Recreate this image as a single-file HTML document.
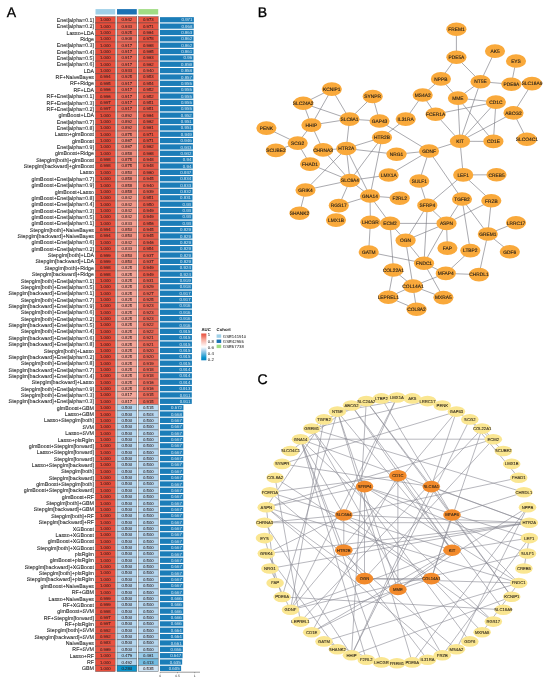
<!DOCTYPE html>
<html><head><meta charset="utf-8"><title>Figure</title>
<style>html,body{margin:0;padding:0;background:#fff}svg{display:block}</style></head>
<body>
<svg width="550" height="686" viewBox="0 0 550 686" font-family="'Liberation Sans', Arial, sans-serif" text-rendering="geometricPrecision">
<rect width="550" height="686" fill="#fff"/>
<g font-size="14" fill="#000" stroke="#000" stroke-width="0.3"><text x="6.8" y="17.1">A</text><text x="257.8" y="17.1">B</text><text x="257.6" y="383.7">C</text></g>
<rect x="95.5" y="9.1" width="19.7" height="5.4" fill="#9fd0e8"/>
<rect x="117.0" y="9.1" width="19.8" height="5.4" fill="#1a72b4"/>
<rect x="138.4" y="9.1" width="19.8" height="5.4" fill="#a0dc84"/>
<g font-size="5.3" fill="#222" stroke="#222" stroke-width="0.08" text-anchor="end">
<text x="94" y="21.83">Enet[alpha=0.1]</text>
<text x="94" y="28.19">Enet[alpha=0.2]</text>
<text x="94" y="34.55">Lasso+LDA</text>
<text x="94" y="40.91">Ridge</text>
<text x="94" y="47.27">Enet[alpha=0.3]</text>
<text x="94" y="53.63">Enet[alpha=0.4]</text>
<text x="94" y="59.98">Enet[alpha=0.5]</text>
<text x="94" y="66.34">Enet[alpha=0.6]</text>
<text x="94" y="72.70">LDA</text>
<text x="94" y="79.06">RF+NaiveBayes</text>
<text x="94" y="85.42">RF+Ridge</text>
<text x="94" y="91.78">RF+LDA</text>
<text x="94" y="98.14">RF+Enet[alpha=0.1]</text>
<text x="94" y="104.50">RF+Enet[alpha=0.3]</text>
<text x="94" y="110.86">RF+Enet[alpha=0.2]</text>
<text x="94" y="117.22">glmBoost+LDA</text>
<text x="94" y="123.58">Enet[alpha=0.7]</text>
<text x="94" y="129.94">Enet[alpha=0.8]</text>
<text x="94" y="136.30">Lasso+glmBoost</text>
<text x="94" y="142.65">glmBoost</text>
<text x="94" y="149.01">Enet[alpha=0.9]</text>
<text x="94" y="155.37">glmBoost+Ridge</text>
<text x="94" y="161.73">Stepglm[both]+glmBoost</text>
<text x="94" y="168.09">Stepglm[backward]+glmBoost</text>
<text x="94" y="174.45">Lasso</text>
<text x="94" y="180.81">glmBoost+Enet[alpha=0.7]</text>
<text x="94" y="187.17">glmBoost+Enet[alpha=0.9]</text>
<text x="94" y="193.53">glmBoost+Lasso</text>
<text x="94" y="199.89">glmBoost+Enet[alpha=0.8]</text>
<text x="94" y="206.25">glmBoost+Enet[alpha=0.4]</text>
<text x="94" y="212.61">glmBoost+Enet[alpha=0.3]</text>
<text x="94" y="218.97">glmBoost+Enet[alpha=0.5]</text>
<text x="94" y="225.32">glmBoost+Enet[alpha=0.1]</text>
<text x="94" y="231.68">Stepglm[both]+NaiveBayes</text>
<text x="94" y="238.04">Stepglm[backward]+NaiveBayes</text>
<text x="94" y="244.40">glmBoost+Enet[alpha=0.6]</text>
<text x="94" y="250.76">glmBoost+Enet[alpha=0.2]</text>
<text x="94" y="257.12">Stepglm[both]+LDA</text>
<text x="94" y="263.48">Stepglm[backward]+LDA</text>
<text x="94" y="269.84">Stepglm[both]+Ridge</text>
<text x="94" y="276.20">Stepglm[backward]+Ridge</text>
<text x="94" y="282.56">Stepglm[both]+Enet[alpha=0.1]</text>
<text x="94" y="288.92">Stepglm[both]+Enet[alpha=0.5]</text>
<text x="94" y="295.28">Stepglm[backward]+Enet[alpha=0.1]</text>
<text x="94" y="301.64">Stepglm[both]+Enet[alpha=0.7]</text>
<text x="94" y="307.99">Stepglm[backward]+Enet[alpha=0.9]</text>
<text x="94" y="314.35">Stepglm[both]+Enet[alpha=0.6]</text>
<text x="94" y="320.71">Stepglm[both]+Enet[alpha=0.2]</text>
<text x="94" y="327.07">Stepglm[backward]+Enet[alpha=0.5]</text>
<text x="94" y="333.43">Stepglm[both]+Enet[alpha=0.4]</text>
<text x="94" y="339.79">Stepglm[backward]+Enet[alpha=0.6]</text>
<text x="94" y="346.15">Stepglm[backward]+Enet[alpha=0.8]</text>
<text x="94" y="352.51">Stepglm[both]+Lasso</text>
<text x="94" y="358.87">Stepglm[backward]+Enet[alpha=0.2]</text>
<text x="94" y="365.23">Stepglm[both]+Enet[alpha=0.8]</text>
<text x="94" y="371.59">Stepglm[backward]+Enet[alpha=0.7]</text>
<text x="94" y="377.95">Stepglm[backward]+Enet[alpha=0.4]</text>
<text x="94" y="384.31">Stepglm[backward]+Lasso</text>
<text x="94" y="390.66">Stepglm[both]+Enet[alpha=0.9]</text>
<text x="94" y="397.02">Stepglm[both]+Enet[alpha=0.3]</text>
<text x="94" y="403.38">Stepglm[backward]+Enet[alpha=0.3]</text>
<text x="94" y="409.74">glmBoost+GBM</text>
<text x="94" y="416.10">Lasso+GBM</text>
<text x="94" y="422.46">Lasso+Stepglm[both]</text>
<text x="94" y="428.82">SVM</text>
<text x="94" y="435.18">Lasso+SVM</text>
<text x="94" y="441.54">Lasso+plsRglm</text>
<text x="94" y="447.90">glmBoost+Stepglm[forward]</text>
<text x="94" y="454.26">Lasso+Stepglm[forward]</text>
<text x="94" y="460.62">Stepglm[forward]</text>
<text x="94" y="466.98">Lasso+Stepglm[backward]</text>
<text x="94" y="473.33">Stepglm[both]</text>
<text x="94" y="479.69">Stepglm[backward]</text>
<text x="94" y="486.05">glmBoost+Stepglm[both]</text>
<text x="94" y="492.41">glmBoost+Stepglm[backward]</text>
<text x="94" y="498.77">glmBoost+RF</text>
<text x="94" y="505.13">Stepglm[both]+GBM</text>
<text x="94" y="511.49">Stepglm[backward]+GBM</text>
<text x="94" y="517.85">Stepglm[both]+RF</text>
<text x="94" y="524.21">Stepglm[backward]+RF</text>
<text x="94" y="530.57">XGBoost</text>
<text x="94" y="536.93">Lasso+XGBoost</text>
<text x="94" y="543.29">glmBoost+XGBoost</text>
<text x="94" y="549.65">Stepglm[both]+XGBoost</text>
<text x="94" y="556.00">plsRglm</text>
<text x="94" y="562.36">glmBoost+plsRglm</text>
<text x="94" y="568.72">Stepglm[backward]+XGBoost</text>
<text x="94" y="575.08">Stepglm[both]+plsRglm</text>
<text x="94" y="581.44">Stepglm[backward]+plsRglm</text>
<text x="94" y="587.80">glmBoost+NaiveBayes</text>
<text x="94" y="594.16">RF+GBM</text>
<text x="94" y="600.52">Lasso+NaiveBayes</text>
<text x="94" y="606.88">RF+XGBoost</text>
<text x="94" y="613.24">glmBoost+SVM</text>
<text x="94" y="619.60">RF+Stepglm[forward]</text>
<text x="94" y="625.96">RF+plsRglm</text>
<text x="94" y="632.32">Stepglm[both]+SVM</text>
<text x="94" y="638.67">Stepglm[backward]+SVM</text>
<text x="94" y="645.03">NaiveBayes</text>
<text x="94" y="651.39">RF+SVM</text>
<text x="94" y="657.75">Lasso+RF</text>
<text x="94" y="664.11">RF</text>
<text x="94" y="670.47">GBM</text>
</g>
<g stroke="#444" stroke-opacity="0.8" stroke-width="0.5">
<rect x="95.5" y="16.60" width="19.7" height="6.359" fill="#e84e3c"/>
<rect x="117.0" y="16.60" width="19.8" height="6.359" fill="#ea5e4c"/>
<rect x="138.4" y="16.60" width="19.8" height="6.359" fill="#e95442"/>
<rect x="95.5" y="22.96" width="19.7" height="6.359" fill="#e84e3c"/>
<rect x="117.0" y="22.96" width="19.8" height="6.359" fill="#eb6250"/>
<rect x="138.4" y="22.96" width="19.8" height="6.359" fill="#e95543"/>
<rect x="95.5" y="29.32" width="19.7" height="6.359" fill="#e84e3c"/>
<rect x="117.0" y="29.32" width="19.8" height="6.359" fill="#eb6554"/>
<rect x="138.4" y="29.32" width="19.8" height="6.359" fill="#e95745"/>
<rect x="95.5" y="35.68" width="19.7" height="6.359" fill="#e84e3c"/>
<rect x="117.0" y="35.68" width="19.8" height="6.359" fill="#ed6e5e"/>
<rect x="138.4" y="35.68" width="19.8" height="6.359" fill="#e95341"/>
<rect x="95.5" y="42.04" width="19.7" height="6.359" fill="#e84e3c"/>
<rect x="117.0" y="42.04" width="19.8" height="6.359" fill="#ec6958"/>
<rect x="138.4" y="42.04" width="19.8" height="6.359" fill="#e95644"/>
<rect x="95.5" y="48.40" width="19.7" height="6.359" fill="#e84e3c"/>
<rect x="117.0" y="48.40" width="19.8" height="6.359" fill="#ec6958"/>
<rect x="138.4" y="48.40" width="19.8" height="6.359" fill="#e95644"/>
<rect x="95.5" y="54.76" width="19.7" height="6.359" fill="#e84e3c"/>
<rect x="117.0" y="54.76" width="19.8" height="6.359" fill="#ec6958"/>
<rect x="138.4" y="54.76" width="19.8" height="6.359" fill="#e95745"/>
<rect x="95.5" y="61.11" width="19.7" height="6.359" fill="#e84e3c"/>
<rect x="117.0" y="61.11" width="19.8" height="6.359" fill="#ec6958"/>
<rect x="138.4" y="61.11" width="19.8" height="6.359" fill="#ea5745"/>
<rect x="95.5" y="67.47" width="19.7" height="6.359" fill="#e84e3c"/>
<rect x="117.0" y="67.47" width="19.8" height="6.359" fill="#eb6250"/>
<rect x="138.4" y="67.47" width="19.8" height="6.359" fill="#eb5f4d"/>
<rect x="95.5" y="73.83" width="19.7" height="6.359" fill="#e84f3d"/>
<rect x="117.0" y="73.83" width="19.8" height="6.359" fill="#eb6554"/>
<rect x="138.4" y="73.83" width="19.8" height="6.359" fill="#ea5947"/>
<rect x="95.5" y="80.19" width="19.7" height="6.359" fill="#e84f3d"/>
<rect x="117.0" y="80.19" width="19.8" height="6.359" fill="#ec6958"/>
<rect x="138.4" y="80.19" width="19.8" height="6.359" fill="#ea5947"/>
<rect x="95.5" y="86.55" width="19.7" height="6.359" fill="#e84f3d"/>
<rect x="117.0" y="86.55" width="19.8" height="6.359" fill="#ec6958"/>
<rect x="138.4" y="86.55" width="19.8" height="6.359" fill="#ea5a48"/>
<rect x="95.5" y="92.91" width="19.7" height="6.359" fill="#e84f3d"/>
<rect x="117.0" y="92.91" width="19.8" height="6.359" fill="#ec6958"/>
<rect x="138.4" y="92.91" width="19.8" height="6.359" fill="#ea5a48"/>
<rect x="95.5" y="99.27" width="19.7" height="6.359" fill="#e84f3d"/>
<rect x="117.0" y="99.27" width="19.8" height="6.359" fill="#ec6958"/>
<rect x="138.4" y="99.27" width="19.8" height="6.359" fill="#ea5a48"/>
<rect x="95.5" y="105.63" width="19.7" height="6.359" fill="#e84f3d"/>
<rect x="117.0" y="105.63" width="19.8" height="6.359" fill="#ec6958"/>
<rect x="138.4" y="105.63" width="19.8" height="6.359" fill="#ea5a48"/>
<rect x="95.5" y="111.99" width="19.7" height="6.359" fill="#e84e3c"/>
<rect x="117.0" y="111.99" width="19.8" height="6.359" fill="#ee7868"/>
<rect x="138.4" y="111.99" width="19.8" height="6.359" fill="#e95745"/>
<rect x="95.5" y="118.35" width="19.7" height="6.359" fill="#e84e3c"/>
<rect x="117.0" y="118.35" width="19.8" height="6.359" fill="#ee7868"/>
<rect x="138.4" y="118.35" width="19.8" height="6.359" fill="#ea5745"/>
<rect x="95.5" y="124.71" width="19.7" height="6.359" fill="#e84e3c"/>
<rect x="117.0" y="124.71" width="19.8" height="6.359" fill="#ee7868"/>
<rect x="138.4" y="124.71" width="19.8" height="6.359" fill="#ea5745"/>
<rect x="95.5" y="131.07" width="19.7" height="6.359" fill="#e84e3c"/>
<rect x="117.0" y="131.07" width="19.8" height="6.359" fill="#f08373"/>
<rect x="138.4" y="131.07" width="19.8" height="6.359" fill="#e95543"/>
<rect x="95.5" y="137.43" width="19.7" height="6.359" fill="#e84e3c"/>
<rect x="117.0" y="137.43" width="19.8" height="6.359" fill="#f08878"/>
<rect x="138.4" y="137.43" width="19.8" height="6.359" fill="#e95543"/>
<rect x="95.5" y="143.78" width="19.7" height="6.359" fill="#e84e3c"/>
<rect x="117.0" y="143.78" width="19.8" height="6.359" fill="#f08878"/>
<rect x="138.4" y="143.78" width="19.8" height="6.359" fill="#ea5745"/>
<rect x="95.5" y="150.14" width="19.7" height="6.359" fill="#e84e3c"/>
<rect x="117.0" y="150.14" width="19.8" height="6.359" fill="#f18d7e"/>
<rect x="138.4" y="150.14" width="19.8" height="6.359" fill="#e95644"/>
<rect x="95.5" y="156.50" width="19.7" height="6.359" fill="#e84e3c"/>
<rect x="117.0" y="156.50" width="19.8" height="6.359" fill="#f08373"/>
<rect x="138.4" y="156.50" width="19.8" height="6.359" fill="#ea5b49"/>
<rect x="95.5" y="162.86" width="19.7" height="6.359" fill="#e84e3c"/>
<rect x="117.0" y="162.86" width="19.8" height="6.359" fill="#f08373"/>
<rect x="138.4" y="162.86" width="19.8" height="6.359" fill="#ea5b49"/>
<rect x="95.5" y="169.22" width="19.7" height="6.359" fill="#e84e3c"/>
<rect x="117.0" y="169.22" width="19.8" height="6.359" fill="#f29384"/>
<rect x="138.4" y="169.22" width="19.8" height="6.359" fill="#ea5846"/>
<rect x="95.5" y="175.58" width="19.7" height="6.359" fill="#e84e3c"/>
<rect x="117.0" y="175.58" width="19.8" height="6.359" fill="#f18d7e"/>
<rect x="138.4" y="175.58" width="19.8" height="6.359" fill="#ea5c4a"/>
<rect x="95.5" y="181.94" width="19.7" height="6.359" fill="#e84e3c"/>
<rect x="117.0" y="181.94" width="19.8" height="6.359" fill="#f18d7e"/>
<rect x="138.4" y="181.94" width="19.8" height="6.359" fill="#eb5f4d"/>
<rect x="95.5" y="188.30" width="19.7" height="6.359" fill="#e84e3c"/>
<rect x="117.0" y="188.30" width="19.8" height="6.359" fill="#f18d7e"/>
<rect x="138.4" y="188.30" width="19.8" height="6.359" fill="#eb5f4d"/>
<rect x="95.5" y="194.66" width="19.7" height="6.359" fill="#e84e3c"/>
<rect x="117.0" y="194.66" width="19.8" height="6.359" fill="#f3998a"/>
<rect x="138.4" y="194.66" width="19.8" height="6.359" fill="#ea5a48"/>
<rect x="95.5" y="201.02" width="19.7" height="6.359" fill="#e84e3c"/>
<rect x="117.0" y="201.02" width="19.8" height="6.359" fill="#f3998a"/>
<rect x="138.4" y="201.02" width="19.8" height="6.359" fill="#ea5a48"/>
<rect x="95.5" y="207.38" width="19.7" height="6.359" fill="#e84e3c"/>
<rect x="117.0" y="207.38" width="19.8" height="6.359" fill="#f3998a"/>
<rect x="138.4" y="207.38" width="19.8" height="6.359" fill="#ea5a48"/>
<rect x="95.5" y="213.74" width="19.7" height="6.359" fill="#e84e3c"/>
<rect x="117.0" y="213.74" width="19.8" height="6.359" fill="#f3998a"/>
<rect x="138.4" y="213.74" width="19.8" height="6.359" fill="#ea5a48"/>
<rect x="95.5" y="220.10" width="19.7" height="6.359" fill="#e84e3c"/>
<rect x="117.0" y="220.10" width="19.8" height="6.359" fill="#f49f91"/>
<rect x="138.4" y="220.10" width="19.8" height="6.359" fill="#ea5947"/>
<rect x="95.5" y="226.45" width="19.7" height="6.359" fill="#e84f3d"/>
<rect x="117.0" y="226.45" width="19.8" height="6.359" fill="#f29384"/>
<rect x="138.4" y="226.45" width="19.8" height="6.359" fill="#ea5c4a"/>
<rect x="95.5" y="232.81" width="19.7" height="6.359" fill="#e84f3d"/>
<rect x="117.0" y="232.81" width="19.8" height="6.359" fill="#f29384"/>
<rect x="138.4" y="232.81" width="19.8" height="6.359" fill="#ea5c4a"/>
<rect x="95.5" y="239.17" width="19.7" height="6.359" fill="#e84e3c"/>
<rect x="117.0" y="239.17" width="19.8" height="6.359" fill="#f3998a"/>
<rect x="138.4" y="239.17" width="19.8" height="6.359" fill="#ea5c4a"/>
<rect x="95.5" y="245.53" width="19.7" height="6.359" fill="#e84e3c"/>
<rect x="117.0" y="245.53" width="19.8" height="6.359" fill="#f49f91"/>
<rect x="138.4" y="245.53" width="19.8" height="6.359" fill="#ea5947"/>
<rect x="95.5" y="251.89" width="19.7" height="6.359" fill="#e84e3c"/>
<rect x="117.0" y="251.89" width="19.8" height="6.359" fill="#f29384"/>
<rect x="138.4" y="251.89" width="19.8" height="6.359" fill="#eb604e"/>
<rect x="95.5" y="258.25" width="19.7" height="6.359" fill="#e84e3c"/>
<rect x="117.0" y="258.25" width="19.8" height="6.359" fill="#f29384"/>
<rect x="138.4" y="258.25" width="19.8" height="6.359" fill="#eb604e"/>
<rect x="95.5" y="264.61" width="19.7" height="6.359" fill="#e84e3c"/>
<rect x="117.0" y="264.61" width="19.8" height="6.359" fill="#f4a497"/>
<rect x="138.4" y="264.61" width="19.8" height="6.359" fill="#ea5a48"/>
<rect x="95.5" y="270.97" width="19.7" height="6.359" fill="#e84e3c"/>
<rect x="117.0" y="270.97" width="19.8" height="6.359" fill="#f4a497"/>
<rect x="138.4" y="270.97" width="19.8" height="6.359" fill="#ea5a48"/>
<rect x="95.5" y="277.33" width="19.7" height="6.359" fill="#e84e3c"/>
<rect x="117.0" y="277.33" width="19.8" height="6.359" fill="#f4a497"/>
<rect x="138.4" y="277.33" width="19.8" height="6.359" fill="#eb6351"/>
<rect x="95.5" y="283.69" width="19.7" height="6.359" fill="#e84e3c"/>
<rect x="117.0" y="283.69" width="19.8" height="6.359" fill="#f4a497"/>
<rect x="138.4" y="283.69" width="19.8" height="6.359" fill="#eb6452"/>
<rect x="95.5" y="290.05" width="19.7" height="6.359" fill="#e84e3c"/>
<rect x="117.0" y="290.05" width="19.8" height="6.359" fill="#f4a497"/>
<rect x="138.4" y="290.05" width="19.8" height="6.359" fill="#eb6553"/>
<rect x="95.5" y="296.41" width="19.7" height="6.359" fill="#e84e3c"/>
<rect x="117.0" y="296.41" width="19.8" height="6.359" fill="#f4a497"/>
<rect x="138.4" y="296.41" width="19.8" height="6.359" fill="#eb6554"/>
<rect x="95.5" y="302.77" width="19.7" height="6.359" fill="#e84e3c"/>
<rect x="117.0" y="302.77" width="19.8" height="6.359" fill="#f4a497"/>
<rect x="138.4" y="302.77" width="19.8" height="6.359" fill="#ec6655"/>
<rect x="95.5" y="309.12" width="19.7" height="6.359" fill="#e84e3c"/>
<rect x="117.0" y="309.12" width="19.8" height="6.359" fill="#f4a497"/>
<rect x="138.4" y="309.12" width="19.8" height="6.359" fill="#ec6655"/>
<rect x="95.5" y="315.48" width="19.7" height="6.359" fill="#e84e3c"/>
<rect x="117.0" y="315.48" width="19.8" height="6.359" fill="#f4a497"/>
<rect x="138.4" y="315.48" width="19.8" height="6.359" fill="#ec6655"/>
<rect x="95.5" y="321.84" width="19.7" height="6.359" fill="#e84e3c"/>
<rect x="117.0" y="321.84" width="19.8" height="6.359" fill="#f4a497"/>
<rect x="138.4" y="321.84" width="19.8" height="6.359" fill="#ec6756"/>
<rect x="95.5" y="328.20" width="19.7" height="6.359" fill="#e84e3c"/>
<rect x="117.0" y="328.20" width="19.8" height="6.359" fill="#f4a497"/>
<rect x="138.4" y="328.20" width="19.8" height="6.359" fill="#ec6756"/>
<rect x="95.5" y="334.56" width="19.7" height="6.359" fill="#e84e3c"/>
<rect x="117.0" y="334.56" width="19.8" height="6.359" fill="#f4a497"/>
<rect x="138.4" y="334.56" width="19.8" height="6.359" fill="#ec6756"/>
<rect x="95.5" y="340.92" width="19.7" height="6.359" fill="#e84e3c"/>
<rect x="117.0" y="340.92" width="19.8" height="6.359" fill="#f4a497"/>
<rect x="138.4" y="340.92" width="19.8" height="6.359" fill="#ec6756"/>
<rect x="95.5" y="347.28" width="19.7" height="6.359" fill="#e84e3c"/>
<rect x="117.0" y="347.28" width="19.8" height="6.359" fill="#f4a497"/>
<rect x="138.4" y="347.28" width="19.8" height="6.359" fill="#ec6857"/>
<rect x="95.5" y="353.64" width="19.7" height="6.359" fill="#e84e3c"/>
<rect x="117.0" y="353.64" width="19.8" height="6.359" fill="#f4a497"/>
<rect x="138.4" y="353.64" width="19.8" height="6.359" fill="#ec6857"/>
<rect x="95.5" y="360.00" width="19.7" height="6.359" fill="#e84e3c"/>
<rect x="117.0" y="360.00" width="19.8" height="6.359" fill="#f4a497"/>
<rect x="138.4" y="360.00" width="19.8" height="6.359" fill="#ec6857"/>
<rect x="95.5" y="366.36" width="19.7" height="6.359" fill="#e84e3c"/>
<rect x="117.0" y="366.36" width="19.8" height="6.359" fill="#f4a497"/>
<rect x="138.4" y="366.36" width="19.8" height="6.359" fill="#ec6958"/>
<rect x="95.5" y="372.72" width="19.7" height="6.359" fill="#e84e3c"/>
<rect x="117.0" y="372.72" width="19.8" height="6.359" fill="#f4a497"/>
<rect x="138.4" y="372.72" width="19.8" height="6.359" fill="#ec6958"/>
<rect x="95.5" y="379.08" width="19.7" height="6.359" fill="#e84e3c"/>
<rect x="117.0" y="379.08" width="19.8" height="6.359" fill="#f4a497"/>
<rect x="138.4" y="379.08" width="19.8" height="6.359" fill="#ec6a59"/>
<rect x="95.5" y="385.43" width="19.7" height="6.359" fill="#e84e3c"/>
<rect x="117.0" y="385.43" width="19.8" height="6.359" fill="#f4a497"/>
<rect x="138.4" y="385.43" width="19.8" height="6.359" fill="#ec6a59"/>
<rect x="95.5" y="391.79" width="19.7" height="6.359" fill="#e84e3c"/>
<rect x="117.0" y="391.79" width="19.8" height="6.359" fill="#f5a99c"/>
<rect x="138.4" y="391.79" width="19.8" height="6.359" fill="#ec6a59"/>
<rect x="95.5" y="398.15" width="19.7" height="6.359" fill="#e84e3c"/>
<rect x="117.0" y="398.15" width="19.8" height="6.359" fill="#f5a99c"/>
<rect x="138.4" y="398.15" width="19.8" height="6.359" fill="#ec6a59"/>
<rect x="95.5" y="404.51" width="19.7" height="6.359" fill="#e84e3c"/>
<rect x="117.0" y="404.51" width="19.8" height="6.359" fill="#b5d6ee"/>
<rect x="138.4" y="404.51" width="19.8" height="6.359" fill="#c0dcf1"/>
<rect x="95.5" y="410.87" width="19.7" height="6.359" fill="#e84e3c"/>
<rect x="117.0" y="410.87" width="19.8" height="6.359" fill="#b5d6ee"/>
<rect x="138.4" y="410.87" width="19.8" height="6.359" fill="#b7d7ef"/>
<rect x="95.5" y="417.23" width="19.7" height="6.359" fill="#e84e3c"/>
<rect x="117.0" y="417.23" width="19.8" height="6.359" fill="#b5d6ee"/>
<rect x="138.4" y="417.23" width="19.8" height="6.359" fill="#b5d6ee"/>
<rect x="95.5" y="423.59" width="19.7" height="6.359" fill="#e84e3c"/>
<rect x="117.0" y="423.59" width="19.8" height="6.359" fill="#b5d6ee"/>
<rect x="138.4" y="423.59" width="19.8" height="6.359" fill="#b5d6ee"/>
<rect x="95.5" y="429.95" width="19.7" height="6.359" fill="#e84e3c"/>
<rect x="117.0" y="429.95" width="19.8" height="6.359" fill="#b5d6ee"/>
<rect x="138.4" y="429.95" width="19.8" height="6.359" fill="#b5d6ee"/>
<rect x="95.5" y="436.31" width="19.7" height="6.359" fill="#e84e3c"/>
<rect x="117.0" y="436.31" width="19.8" height="6.359" fill="#b5d6ee"/>
<rect x="138.4" y="436.31" width="19.8" height="6.359" fill="#b5d6ee"/>
<rect x="95.5" y="442.67" width="19.7" height="6.359" fill="#e84e3c"/>
<rect x="117.0" y="442.67" width="19.8" height="6.359" fill="#b5d6ee"/>
<rect x="138.4" y="442.67" width="19.8" height="6.359" fill="#b5d6ee"/>
<rect x="95.5" y="449.03" width="19.7" height="6.359" fill="#e84e3c"/>
<rect x="117.0" y="449.03" width="19.8" height="6.359" fill="#b5d6ee"/>
<rect x="138.4" y="449.03" width="19.8" height="6.359" fill="#b5d6ee"/>
<rect x="95.5" y="455.39" width="19.7" height="6.359" fill="#e84e3c"/>
<rect x="117.0" y="455.39" width="19.8" height="6.359" fill="#b5d6ee"/>
<rect x="138.4" y="455.39" width="19.8" height="6.359" fill="#b5d6ee"/>
<rect x="95.5" y="461.75" width="19.7" height="6.359" fill="#e84e3c"/>
<rect x="117.0" y="461.75" width="19.8" height="6.359" fill="#b5d6ee"/>
<rect x="138.4" y="461.75" width="19.8" height="6.359" fill="#b5d6ee"/>
<rect x="95.5" y="468.10" width="19.7" height="6.359" fill="#e84e3c"/>
<rect x="117.0" y="468.10" width="19.8" height="6.359" fill="#b5d6ee"/>
<rect x="138.4" y="468.10" width="19.8" height="6.359" fill="#b5d6ee"/>
<rect x="95.5" y="474.46" width="19.7" height="6.359" fill="#e84e3c"/>
<rect x="117.0" y="474.46" width="19.8" height="6.359" fill="#b5d6ee"/>
<rect x="138.4" y="474.46" width="19.8" height="6.359" fill="#b5d6ee"/>
<rect x="95.5" y="480.82" width="19.7" height="6.359" fill="#e84e3c"/>
<rect x="117.0" y="480.82" width="19.8" height="6.359" fill="#b5d6ee"/>
<rect x="138.4" y="480.82" width="19.8" height="6.359" fill="#b5d6ee"/>
<rect x="95.5" y="487.18" width="19.7" height="6.359" fill="#e84e3c"/>
<rect x="117.0" y="487.18" width="19.8" height="6.359" fill="#b5d6ee"/>
<rect x="138.4" y="487.18" width="19.8" height="6.359" fill="#b5d6ee"/>
<rect x="95.5" y="493.54" width="19.7" height="6.359" fill="#e84e3c"/>
<rect x="117.0" y="493.54" width="19.8" height="6.359" fill="#b5d6ee"/>
<rect x="138.4" y="493.54" width="19.8" height="6.359" fill="#b5d6ee"/>
<rect x="95.5" y="499.90" width="19.7" height="6.359" fill="#e84e3c"/>
<rect x="117.0" y="499.90" width="19.8" height="6.359" fill="#b5d6ee"/>
<rect x="138.4" y="499.90" width="19.8" height="6.359" fill="#b5d6ee"/>
<rect x="95.5" y="506.26" width="19.7" height="6.359" fill="#e84e3c"/>
<rect x="117.0" y="506.26" width="19.8" height="6.359" fill="#b5d6ee"/>
<rect x="138.4" y="506.26" width="19.8" height="6.359" fill="#b5d6ee"/>
<rect x="95.5" y="512.62" width="19.7" height="6.359" fill="#e84e3c"/>
<rect x="117.0" y="512.62" width="19.8" height="6.359" fill="#b5d6ee"/>
<rect x="138.4" y="512.62" width="19.8" height="6.359" fill="#b5d6ee"/>
<rect x="95.5" y="518.98" width="19.7" height="6.359" fill="#e84e3c"/>
<rect x="117.0" y="518.98" width="19.8" height="6.359" fill="#b5d6ee"/>
<rect x="138.4" y="518.98" width="19.8" height="6.359" fill="#b5d6ee"/>
<rect x="95.5" y="525.34" width="19.7" height="6.359" fill="#e84e3c"/>
<rect x="117.0" y="525.34" width="19.8" height="6.359" fill="#b5d6ee"/>
<rect x="138.4" y="525.34" width="19.8" height="6.359" fill="#b5d6ee"/>
<rect x="95.5" y="531.70" width="19.7" height="6.359" fill="#e84e3c"/>
<rect x="117.0" y="531.70" width="19.8" height="6.359" fill="#b5d6ee"/>
<rect x="138.4" y="531.70" width="19.8" height="6.359" fill="#b5d6ee"/>
<rect x="95.5" y="538.06" width="19.7" height="6.359" fill="#e84e3c"/>
<rect x="117.0" y="538.06" width="19.8" height="6.359" fill="#b5d6ee"/>
<rect x="138.4" y="538.06" width="19.8" height="6.359" fill="#b5d6ee"/>
<rect x="95.5" y="544.42" width="19.7" height="6.359" fill="#e84e3c"/>
<rect x="117.0" y="544.42" width="19.8" height="6.359" fill="#b5d6ee"/>
<rect x="138.4" y="544.42" width="19.8" height="6.359" fill="#b5d6ee"/>
<rect x="95.5" y="550.77" width="19.7" height="6.359" fill="#e84e3c"/>
<rect x="117.0" y="550.77" width="19.8" height="6.359" fill="#b5d6ee"/>
<rect x="138.4" y="550.77" width="19.8" height="6.359" fill="#b5d6ee"/>
<rect x="95.5" y="557.13" width="19.7" height="6.359" fill="#e84e3c"/>
<rect x="117.0" y="557.13" width="19.8" height="6.359" fill="#b5d6ee"/>
<rect x="138.4" y="557.13" width="19.8" height="6.359" fill="#b5d6ee"/>
<rect x="95.5" y="563.49" width="19.7" height="6.359" fill="#e84e3c"/>
<rect x="117.0" y="563.49" width="19.8" height="6.359" fill="#b5d6ee"/>
<rect x="138.4" y="563.49" width="19.8" height="6.359" fill="#b5d6ee"/>
<rect x="95.5" y="569.85" width="19.7" height="6.359" fill="#e84e3c"/>
<rect x="117.0" y="569.85" width="19.8" height="6.359" fill="#b5d6ee"/>
<rect x="138.4" y="569.85" width="19.8" height="6.359" fill="#b5d6ee"/>
<rect x="95.5" y="576.21" width="19.7" height="6.359" fill="#e84e3c"/>
<rect x="117.0" y="576.21" width="19.8" height="6.359" fill="#b5d6ee"/>
<rect x="138.4" y="576.21" width="19.8" height="6.359" fill="#b5d6ee"/>
<rect x="95.5" y="582.57" width="19.7" height="6.359" fill="#e84e3c"/>
<rect x="117.0" y="582.57" width="19.8" height="6.359" fill="#b5d6ee"/>
<rect x="138.4" y="582.57" width="19.8" height="6.359" fill="#b5d6ee"/>
<rect x="95.5" y="588.93" width="19.7" height="6.359" fill="#e84e3c"/>
<rect x="117.0" y="588.93" width="19.8" height="6.359" fill="#b5d6ee"/>
<rect x="138.4" y="588.93" width="19.8" height="6.359" fill="#b5d6ee"/>
<rect x="95.5" y="595.29" width="19.7" height="6.359" fill="#e84e3c"/>
<rect x="117.0" y="595.29" width="19.8" height="6.359" fill="#b5d6ee"/>
<rect x="138.4" y="595.29" width="19.8" height="6.359" fill="#b5d6ee"/>
<rect x="95.5" y="601.65" width="19.7" height="6.359" fill="#e84e3c"/>
<rect x="117.0" y="601.65" width="19.8" height="6.359" fill="#b5d6ee"/>
<rect x="138.4" y="601.65" width="19.8" height="6.359" fill="#b5d6ee"/>
<rect x="95.5" y="608.01" width="19.7" height="6.359" fill="#e84e3c"/>
<rect x="117.0" y="608.01" width="19.8" height="6.359" fill="#b5d6ee"/>
<rect x="138.4" y="608.01" width="19.8" height="6.359" fill="#b5d6ee"/>
<rect x="95.5" y="614.37" width="19.7" height="6.359" fill="#e84f3d"/>
<rect x="117.0" y="614.37" width="19.8" height="6.359" fill="#b5d6ee"/>
<rect x="138.4" y="614.37" width="19.8" height="6.359" fill="#b5d6ee"/>
<rect x="95.5" y="620.73" width="19.7" height="6.359" fill="#e84f3d"/>
<rect x="117.0" y="620.73" width="19.8" height="6.359" fill="#b5d6ee"/>
<rect x="138.4" y="620.73" width="19.8" height="6.359" fill="#b5d6ee"/>
<rect x="95.5" y="627.09" width="19.7" height="6.359" fill="#e8503e"/>
<rect x="117.0" y="627.09" width="19.8" height="6.359" fill="#b5d6ee"/>
<rect x="138.4" y="627.09" width="19.8" height="6.359" fill="#b5d6ee"/>
<rect x="95.5" y="633.44" width="19.7" height="6.359" fill="#e8503e"/>
<rect x="117.0" y="633.44" width="19.8" height="6.359" fill="#b5d6ee"/>
<rect x="138.4" y="633.44" width="19.8" height="6.359" fill="#b5d6ee"/>
<rect x="95.5" y="639.80" width="19.7" height="6.359" fill="#e95240"/>
<rect x="117.0" y="639.80" width="19.8" height="6.359" fill="#b5d6ee"/>
<rect x="138.4" y="639.80" width="19.8" height="6.359" fill="#b5d6ee"/>
<rect x="95.5" y="646.16" width="19.7" height="6.359" fill="#e95543"/>
<rect x="117.0" y="646.16" width="19.8" height="6.359" fill="#b5d6ee"/>
<rect x="138.4" y="646.16" width="19.8" height="6.359" fill="#b5d6ee"/>
<rect x="95.5" y="652.52" width="19.7" height="6.359" fill="#e84e3c"/>
<rect x="117.0" y="652.52" width="19.8" height="6.359" fill="#a5d0eb"/>
<rect x="138.4" y="652.52" width="19.8" height="6.359" fill="#97cae8"/>
<rect x="95.5" y="658.88" width="19.7" height="6.359" fill="#e84e3c"/>
<rect x="117.0" y="658.88" width="19.8" height="6.359" fill="#afd4ed"/>
<rect x="138.4" y="658.88" width="19.8" height="6.359" fill="#72bce1"/>
<rect x="95.5" y="665.24" width="19.7" height="6.359" fill="#e84e3c"/>
<rect x="117.0" y="665.24" width="19.8" height="6.359" fill="#0c94cc"/>
<rect x="138.4" y="665.24" width="19.8" height="6.359" fill="#cfe4f4"/>
</g>
<g font-size="4.25" fill="#2a1a1a" stroke="#2a1a1a" stroke-width="0.04" text-anchor="middle">
<text x="105.3" y="21.23">1.000</text>
<text x="126.9" y="21.23">0.942</text>
<text x="148.3" y="21.23">0.973</text>
<text x="105.3" y="27.59">1.000</text>
<text x="126.9" y="27.59">0.933</text>
<text x="148.3" y="27.59">0.971</text>
<text x="105.3" y="33.95">1.000</text>
<text x="126.9" y="33.95">0.925</text>
<text x="148.3" y="33.95">0.964</text>
<text x="105.3" y="40.31">1.000</text>
<text x="126.9" y="40.31">0.908</text>
<text x="148.3" y="40.31">0.978</text>
<text x="105.3" y="46.67">1.000</text>
<text x="126.9" y="46.67">0.917</text>
<text x="148.3" y="46.67">0.968</text>
<text x="105.3" y="53.03">1.000</text>
<text x="126.9" y="53.03">0.917</text>
<text x="148.3" y="53.03">0.965</text>
<text x="105.3" y="59.38">1.000</text>
<text x="126.9" y="59.38">0.917</text>
<text x="148.3" y="59.38">0.963</text>
<text x="105.3" y="65.74">1.000</text>
<text x="126.9" y="65.74">0.917</text>
<text x="148.3" y="65.74">0.962</text>
<text x="105.3" y="72.10">1.000</text>
<text x="126.9" y="72.10">0.933</text>
<text x="148.3" y="72.10">0.940</text>
<text x="105.3" y="78.46">0.994</text>
<text x="126.9" y="78.46">0.925</text>
<text x="148.3" y="78.46">0.953</text>
<text x="105.3" y="84.82">0.995</text>
<text x="126.9" y="84.82">0.917</text>
<text x="148.3" y="84.82">0.954</text>
<text x="105.3" y="91.18">0.996</text>
<text x="126.9" y="91.18">0.917</text>
<text x="148.3" y="91.18">0.952</text>
<text x="105.3" y="97.54">0.996</text>
<text x="126.9" y="97.54">0.917</text>
<text x="148.3" y="97.54">0.952</text>
<text x="105.3" y="103.90">0.997</text>
<text x="126.9" y="103.90">0.917</text>
<text x="148.3" y="103.90">0.951</text>
<text x="105.3" y="110.26">0.997</text>
<text x="126.9" y="110.26">0.917</text>
<text x="148.3" y="110.26">0.951</text>
<text x="105.3" y="116.62">1.000</text>
<text x="126.9" y="116.62">0.892</text>
<text x="148.3" y="116.62">0.964</text>
<text x="105.3" y="122.98">1.000</text>
<text x="126.9" y="122.98">0.892</text>
<text x="148.3" y="122.98">0.962</text>
<text x="105.3" y="129.34">1.000</text>
<text x="126.9" y="129.34">0.892</text>
<text x="148.3" y="129.34">0.961</text>
<text x="105.3" y="135.70">1.000</text>
<text x="126.9" y="135.70">0.875</text>
<text x="148.3" y="135.70">0.971</text>
<text x="105.3" y="142.05">1.000</text>
<text x="126.9" y="142.05">0.867</text>
<text x="148.3" y="142.05">0.971</text>
<text x="105.3" y="148.41">1.000</text>
<text x="126.9" y="148.41">0.867</text>
<text x="148.3" y="148.41">0.962</text>
<text x="105.3" y="154.77">1.000</text>
<text x="126.9" y="154.77">0.858</text>
<text x="148.3" y="154.77">0.968</text>
<text x="105.3" y="161.13">0.998</text>
<text x="126.9" y="161.13">0.875</text>
<text x="148.3" y="161.13">0.948</text>
<text x="105.3" y="167.49">0.998</text>
<text x="126.9" y="167.49">0.875</text>
<text x="148.3" y="167.49">0.948</text>
<text x="105.3" y="173.85">1.000</text>
<text x="126.9" y="173.85">0.850</text>
<text x="148.3" y="173.85">0.960</text>
<text x="105.3" y="180.21">1.000</text>
<text x="126.9" y="180.21">0.858</text>
<text x="148.3" y="180.21">0.945</text>
<text x="105.3" y="186.57">1.000</text>
<text x="126.9" y="186.57">0.858</text>
<text x="148.3" y="186.57">0.940</text>
<text x="105.3" y="192.93">1.000</text>
<text x="126.9" y="192.93">0.858</text>
<text x="148.3" y="192.93">0.939</text>
<text x="105.3" y="199.29">1.000</text>
<text x="126.9" y="199.29">0.842</text>
<text x="148.3" y="199.29">0.951</text>
<text x="105.3" y="205.65">1.000</text>
<text x="126.9" y="205.65">0.842</text>
<text x="148.3" y="205.65">0.950</text>
<text x="105.3" y="212.01">1.000</text>
<text x="126.9" y="212.01">0.842</text>
<text x="148.3" y="212.01">0.949</text>
<text x="105.3" y="218.37">1.000</text>
<text x="126.9" y="218.37">0.842</text>
<text x="148.3" y="218.37">0.949</text>
<text x="105.3" y="224.72">1.000</text>
<text x="126.9" y="224.72">0.833</text>
<text x="148.3" y="224.72">0.956</text>
<text x="105.3" y="231.08">0.994</text>
<text x="126.9" y="231.08">0.850</text>
<text x="148.3" y="231.08">0.945</text>
<text x="105.3" y="237.44">0.994</text>
<text x="126.9" y="237.44">0.850</text>
<text x="148.3" y="237.44">0.945</text>
<text x="105.3" y="243.80">1.000</text>
<text x="126.9" y="243.80">0.842</text>
<text x="148.3" y="243.80">0.946</text>
<text x="105.3" y="250.16">1.000</text>
<text x="126.9" y="250.16">0.833</text>
<text x="148.3" y="250.16">0.954</text>
<text x="105.3" y="256.52">0.999</text>
<text x="126.9" y="256.52">0.850</text>
<text x="148.3" y="256.52">0.937</text>
<text x="105.3" y="262.88">0.999</text>
<text x="126.9" y="262.88">0.850</text>
<text x="148.3" y="262.88">0.937</text>
<text x="105.3" y="269.24">0.998</text>
<text x="126.9" y="269.24">0.825</text>
<text x="148.3" y="269.24">0.949</text>
<text x="105.3" y="275.60">0.998</text>
<text x="126.9" y="275.60">0.825</text>
<text x="148.3" y="275.60">0.949</text>
<text x="105.3" y="281.96">1.000</text>
<text x="126.9" y="281.96">0.825</text>
<text x="148.3" y="281.96">0.931</text>
<text x="105.3" y="288.32">1.000</text>
<text x="126.9" y="288.32">0.825</text>
<text x="148.3" y="288.32">0.929</text>
<text x="105.3" y="294.68">1.000</text>
<text x="126.9" y="294.68">0.825</text>
<text x="148.3" y="294.68">0.927</text>
<text x="105.3" y="301.04">1.000</text>
<text x="126.9" y="301.04">0.825</text>
<text x="148.3" y="301.04">0.925</text>
<text x="105.3" y="307.39">1.000</text>
<text x="126.9" y="307.39">0.825</text>
<text x="148.3" y="307.39">0.923</text>
<text x="105.3" y="313.75">1.000</text>
<text x="126.9" y="313.75">0.825</text>
<text x="148.3" y="313.75">0.923</text>
<text x="105.3" y="320.11">1.000</text>
<text x="126.9" y="320.11">0.825</text>
<text x="148.3" y="320.11">0.923</text>
<text x="105.3" y="326.47">1.000</text>
<text x="126.9" y="326.47">0.825</text>
<text x="148.3" y="326.47">0.922</text>
<text x="105.3" y="332.83">1.000</text>
<text x="126.9" y="332.83">0.825</text>
<text x="148.3" y="332.83">0.922</text>
<text x="105.3" y="339.19">1.000</text>
<text x="126.9" y="339.19">0.825</text>
<text x="148.3" y="339.19">0.921</text>
<text x="105.3" y="345.55">1.000</text>
<text x="126.9" y="345.55">0.825</text>
<text x="148.3" y="345.55">0.921</text>
<text x="105.3" y="351.91">1.000</text>
<text x="126.9" y="351.91">0.825</text>
<text x="148.3" y="351.91">0.920</text>
<text x="105.3" y="358.27">1.000</text>
<text x="126.9" y="358.27">0.825</text>
<text x="148.3" y="358.27">0.920</text>
<text x="105.3" y="364.63">1.000</text>
<text x="126.9" y="364.63">0.825</text>
<text x="148.3" y="364.63">0.919</text>
<text x="105.3" y="370.99">1.000</text>
<text x="126.9" y="370.99">0.825</text>
<text x="148.3" y="370.99">0.918</text>
<text x="105.3" y="377.35">1.000</text>
<text x="126.9" y="377.35">0.825</text>
<text x="148.3" y="377.35">0.918</text>
<text x="105.3" y="383.71">1.000</text>
<text x="126.9" y="383.71">0.825</text>
<text x="148.3" y="383.71">0.916</text>
<text x="105.3" y="390.06">1.000</text>
<text x="126.9" y="390.06">0.825</text>
<text x="148.3" y="390.06">0.916</text>
<text x="105.3" y="396.42">1.000</text>
<text x="126.9" y="396.42">0.817</text>
<text x="148.3" y="396.42">0.915</text>
<text x="105.3" y="402.78">1.000</text>
<text x="126.9" y="402.78">0.817</text>
<text x="148.3" y="402.78">0.915</text>
<text x="105.3" y="409.14">1.000</text>
<text x="126.9" y="409.14">0.500</text>
<text x="148.3" y="409.14">0.515</text>
<text x="105.3" y="415.50">1.000</text>
<text x="126.9" y="415.50">0.500</text>
<text x="148.3" y="415.50">0.503</text>
<text x="105.3" y="421.86">1.000</text>
<text x="126.9" y="421.86">0.500</text>
<text x="148.3" y="421.86">0.500</text>
<text x="105.3" y="428.22">1.000</text>
<text x="126.9" y="428.22">0.500</text>
<text x="148.3" y="428.22">0.500</text>
<text x="105.3" y="434.58">1.000</text>
<text x="126.9" y="434.58">0.500</text>
<text x="148.3" y="434.58">0.500</text>
<text x="105.3" y="440.94">1.000</text>
<text x="126.9" y="440.94">0.500</text>
<text x="148.3" y="440.94">0.500</text>
<text x="105.3" y="447.30">1.000</text>
<text x="126.9" y="447.30">0.500</text>
<text x="148.3" y="447.30">0.500</text>
<text x="105.3" y="453.66">1.000</text>
<text x="126.9" y="453.66">0.500</text>
<text x="148.3" y="453.66">0.500</text>
<text x="105.3" y="460.02">1.000</text>
<text x="126.9" y="460.02">0.500</text>
<text x="148.3" y="460.02">0.500</text>
<text x="105.3" y="466.38">1.000</text>
<text x="126.9" y="466.38">0.500</text>
<text x="148.3" y="466.38">0.500</text>
<text x="105.3" y="472.73">1.000</text>
<text x="126.9" y="472.73">0.500</text>
<text x="148.3" y="472.73">0.500</text>
<text x="105.3" y="479.09">1.000</text>
<text x="126.9" y="479.09">0.500</text>
<text x="148.3" y="479.09">0.500</text>
<text x="105.3" y="485.45">1.000</text>
<text x="126.9" y="485.45">0.500</text>
<text x="148.3" y="485.45">0.500</text>
<text x="105.3" y="491.81">1.000</text>
<text x="126.9" y="491.81">0.500</text>
<text x="148.3" y="491.81">0.500</text>
<text x="105.3" y="498.17">1.000</text>
<text x="126.9" y="498.17">0.500</text>
<text x="148.3" y="498.17">0.500</text>
<text x="105.3" y="504.53">1.000</text>
<text x="126.9" y="504.53">0.500</text>
<text x="148.3" y="504.53">0.500</text>
<text x="105.3" y="510.89">1.000</text>
<text x="126.9" y="510.89">0.500</text>
<text x="148.3" y="510.89">0.500</text>
<text x="105.3" y="517.25">1.000</text>
<text x="126.9" y="517.25">0.500</text>
<text x="148.3" y="517.25">0.500</text>
<text x="105.3" y="523.61">1.000</text>
<text x="126.9" y="523.61">0.500</text>
<text x="148.3" y="523.61">0.500</text>
<text x="105.3" y="529.97">1.000</text>
<text x="126.9" y="529.97">0.500</text>
<text x="148.3" y="529.97">0.500</text>
<text x="105.3" y="536.33">1.000</text>
<text x="126.9" y="536.33">0.500</text>
<text x="148.3" y="536.33">0.500</text>
<text x="105.3" y="542.69">1.000</text>
<text x="126.9" y="542.69">0.500</text>
<text x="148.3" y="542.69">0.500</text>
<text x="105.3" y="549.05">1.000</text>
<text x="126.9" y="549.05">0.500</text>
<text x="148.3" y="549.05">0.500</text>
<text x="105.3" y="555.40">1.000</text>
<text x="126.9" y="555.40">0.500</text>
<text x="148.3" y="555.40">0.500</text>
<text x="105.3" y="561.76">1.000</text>
<text x="126.9" y="561.76">0.500</text>
<text x="148.3" y="561.76">0.500</text>
<text x="105.3" y="568.12">1.000</text>
<text x="126.9" y="568.12">0.500</text>
<text x="148.3" y="568.12">0.500</text>
<text x="105.3" y="574.48">1.000</text>
<text x="126.9" y="574.48">0.500</text>
<text x="148.3" y="574.48">0.500</text>
<text x="105.3" y="580.84">1.000</text>
<text x="126.9" y="580.84">0.500</text>
<text x="148.3" y="580.84">0.500</text>
<text x="105.3" y="587.20">1.000</text>
<text x="126.9" y="587.20">0.500</text>
<text x="148.3" y="587.20">0.500</text>
<text x="105.3" y="593.56">1.000</text>
<text x="126.9" y="593.56">0.500</text>
<text x="148.3" y="593.56">0.500</text>
<text x="105.3" y="599.92">0.999</text>
<text x="126.9" y="599.92">0.500</text>
<text x="148.3" y="599.92">0.500</text>
<text x="105.3" y="606.28">0.999</text>
<text x="126.9" y="606.28">0.500</text>
<text x="148.3" y="606.28">0.500</text>
<text x="105.3" y="612.64">0.998</text>
<text x="126.9" y="612.64">0.500</text>
<text x="148.3" y="612.64">0.500</text>
<text x="105.3" y="619.00">0.997</text>
<text x="126.9" y="619.00">0.500</text>
<text x="148.3" y="619.00">0.500</text>
<text x="105.3" y="625.36">0.997</text>
<text x="126.9" y="625.36">0.500</text>
<text x="148.3" y="625.36">0.500</text>
<text x="105.3" y="631.72">0.992</text>
<text x="126.9" y="631.72">0.500</text>
<text x="148.3" y="631.72">0.500</text>
<text x="105.3" y="638.07">0.992</text>
<text x="126.9" y="638.07">0.500</text>
<text x="148.3" y="638.07">0.500</text>
<text x="105.3" y="644.43">0.983</text>
<text x="126.9" y="644.43">0.500</text>
<text x="148.3" y="644.43">0.500</text>
<text x="105.3" y="650.79">0.969</text>
<text x="126.9" y="650.79">0.500</text>
<text x="148.3" y="650.79">0.500</text>
<text x="105.3" y="657.15">1.000</text>
<text x="126.9" y="657.15">0.479</text>
<text x="148.3" y="657.15">0.461</text>
<text x="105.3" y="663.51">1.000</text>
<text x="126.9" y="663.51">0.492</text>
<text x="148.3" y="663.51">0.413</text>
<text x="105.3" y="669.87">1.000</text>
<text x="126.9" y="669.87">0.280</text>
<text x="148.3" y="669.87">0.535</text>
</g>
<g fill="#1b7db8">
<rect x="160.0" y="17.15" width="33.89" height="5.21"/>
<rect x="160.0" y="23.51" width="33.78" height="5.21"/>
<rect x="160.0" y="29.87" width="33.61" height="5.21"/>
<rect x="160.0" y="36.23" width="33.57" height="5.21"/>
<rect x="160.0" y="42.59" width="33.57" height="5.21"/>
<rect x="160.0" y="48.95" width="33.54" height="5.21"/>
<rect x="160.0" y="55.31" width="33.50" height="5.21"/>
<rect x="160.0" y="61.66" width="33.47" height="5.21"/>
<rect x="160.0" y="68.02" width="33.43" height="5.21"/>
<rect x="160.0" y="74.38" width="33.40" height="5.21"/>
<rect x="160.0" y="80.74" width="33.33" height="5.21"/>
<rect x="160.0" y="87.10" width="33.33" height="5.21"/>
<rect x="160.0" y="93.46" width="33.33" height="5.21"/>
<rect x="160.0" y="99.82" width="33.33" height="5.21"/>
<rect x="160.0" y="106.18" width="33.33" height="5.21"/>
<rect x="160.0" y="112.54" width="33.22" height="5.21"/>
<rect x="160.0" y="118.90" width="33.19" height="5.21"/>
<rect x="160.0" y="125.26" width="33.19" height="5.21"/>
<rect x="160.0" y="131.62" width="33.12" height="5.21"/>
<rect x="160.0" y="137.98" width="33.02" height="5.21"/>
<rect x="160.0" y="144.33" width="32.91" height="5.21"/>
<rect x="160.0" y="150.69" width="32.88" height="5.21"/>
<rect x="160.0" y="157.05" width="32.81" height="5.21"/>
<rect x="160.0" y="163.41" width="32.81" height="5.21"/>
<rect x="160.0" y="169.77" width="32.70" height="5.21"/>
<rect x="160.0" y="176.13" width="32.60" height="5.21"/>
<rect x="160.0" y="182.49" width="32.56" height="5.21"/>
<rect x="160.0" y="188.85" width="32.53" height="5.21"/>
<rect x="160.0" y="195.21" width="32.49" height="5.21"/>
<rect x="160.0" y="201.57" width="32.46" height="5.21"/>
<rect x="160.0" y="207.93" width="32.46" height="5.21"/>
<rect x="160.0" y="214.29" width="32.46" height="5.21"/>
<rect x="160.0" y="220.65" width="32.46" height="5.21"/>
<rect x="160.0" y="227.00" width="32.42" height="5.21"/>
<rect x="160.0" y="233.36" width="32.42" height="5.21"/>
<rect x="160.0" y="239.72" width="32.42" height="5.21"/>
<rect x="160.0" y="246.08" width="32.42" height="5.21"/>
<rect x="160.0" y="252.44" width="32.42" height="5.21"/>
<rect x="160.0" y="258.80" width="32.42" height="5.21"/>
<rect x="160.0" y="265.16" width="32.25" height="5.21"/>
<rect x="160.0" y="271.52" width="32.25" height="5.21"/>
<rect x="160.0" y="277.88" width="32.07" height="5.21"/>
<rect x="160.0" y="284.24" width="32.04" height="5.21"/>
<rect x="160.0" y="290.60" width="32.00" height="5.21"/>
<rect x="160.0" y="296.96" width="32.00" height="5.21"/>
<rect x="160.0" y="303.32" width="31.97" height="5.21"/>
<rect x="160.0" y="309.67" width="31.97" height="5.21"/>
<rect x="160.0" y="316.03" width="31.97" height="5.21"/>
<rect x="160.0" y="322.39" width="31.97" height="5.21"/>
<rect x="160.0" y="328.75" width="31.93" height="5.21"/>
<rect x="160.0" y="335.11" width="31.93" height="5.21"/>
<rect x="160.0" y="341.47" width="31.93" height="5.21"/>
<rect x="160.0" y="347.83" width="31.93" height="5.21"/>
<rect x="160.0" y="354.19" width="31.93" height="5.21"/>
<rect x="160.0" y="360.55" width="31.93" height="5.21"/>
<rect x="160.0" y="366.91" width="31.90" height="5.21"/>
<rect x="160.0" y="373.27" width="31.90" height="5.21"/>
<rect x="160.0" y="379.63" width="31.90" height="5.21"/>
<rect x="160.0" y="385.98" width="31.86" height="5.21"/>
<rect x="160.0" y="392.34" width="31.79" height="5.21"/>
<rect x="160.0" y="398.70" width="31.79" height="5.21"/>
<rect x="160.0" y="405.06" width="23.45" height="5.21"/>
<rect x="160.0" y="411.42" width="23.31" height="5.21"/>
<rect x="160.0" y="417.78" width="23.28" height="5.21"/>
<rect x="160.0" y="424.14" width="23.28" height="5.21"/>
<rect x="160.0" y="430.50" width="23.28" height="5.21"/>
<rect x="160.0" y="436.86" width="23.28" height="5.21"/>
<rect x="160.0" y="443.22" width="23.28" height="5.21"/>
<rect x="160.0" y="449.58" width="23.28" height="5.21"/>
<rect x="160.0" y="455.94" width="23.28" height="5.21"/>
<rect x="160.0" y="462.30" width="23.28" height="5.21"/>
<rect x="160.0" y="468.65" width="23.28" height="5.21"/>
<rect x="160.0" y="475.01" width="23.28" height="5.21"/>
<rect x="160.0" y="481.37" width="23.28" height="5.21"/>
<rect x="160.0" y="487.73" width="23.28" height="5.21"/>
<rect x="160.0" y="494.09" width="23.28" height="5.21"/>
<rect x="160.0" y="500.45" width="23.28" height="5.21"/>
<rect x="160.0" y="506.81" width="23.28" height="5.21"/>
<rect x="160.0" y="513.17" width="23.28" height="5.21"/>
<rect x="160.0" y="519.53" width="23.28" height="5.21"/>
<rect x="160.0" y="525.89" width="23.28" height="5.21"/>
<rect x="160.0" y="532.25" width="23.28" height="5.21"/>
<rect x="160.0" y="538.61" width="23.28" height="5.21"/>
<rect x="160.0" y="544.97" width="23.28" height="5.21"/>
<rect x="160.0" y="551.32" width="23.28" height="5.21"/>
<rect x="160.0" y="557.68" width="23.28" height="5.21"/>
<rect x="160.0" y="564.04" width="23.28" height="5.21"/>
<rect x="160.0" y="570.40" width="23.28" height="5.21"/>
<rect x="160.0" y="576.76" width="23.28" height="5.21"/>
<rect x="160.0" y="583.12" width="23.28" height="5.21"/>
<rect x="160.0" y="589.48" width="23.28" height="5.21"/>
<rect x="160.0" y="595.84" width="23.24" height="5.21"/>
<rect x="160.0" y="602.20" width="23.24" height="5.21"/>
<rect x="160.0" y="608.56" width="23.24" height="5.21"/>
<rect x="160.0" y="614.92" width="23.24" height="5.21"/>
<rect x="160.0" y="621.28" width="23.24" height="5.21"/>
<rect x="160.0" y="627.64" width="23.17" height="5.21"/>
<rect x="160.0" y="633.99" width="23.17" height="5.21"/>
<rect x="160.0" y="640.35" width="23.07" height="5.21"/>
<rect x="160.0" y="646.71" width="22.89" height="5.21"/>
<rect x="160.0" y="653.07" width="22.58" height="5.21"/>
<rect x="160.0" y="659.43" width="22.16" height="5.21"/>
<rect x="160.0" y="665.79" width="21.11" height="5.21"/>
</g>
<g font-size="4.4" fill="#fff" fill-opacity="0.82" text-anchor="end">
<text x="192.49" y="21.33">0.971</text>
<text x="192.38" y="27.69">0.968</text>
<text x="192.21" y="34.05">0.963</text>
<text x="192.17" y="40.41">0.962</text>
<text x="192.17" y="46.77">0.962</text>
<text x="192.14" y="53.13">0.961</text>
<text x="192.10" y="59.48">0.96</text>
<text x="192.07" y="65.84">0.959</text>
<text x="192.03" y="72.20">0.958</text>
<text x="192.00" y="78.56">0.957</text>
<text x="191.93" y="84.92">0.955</text>
<text x="191.93" y="91.28">0.955</text>
<text x="191.93" y="97.64">0.955</text>
<text x="191.93" y="104.00">0.955</text>
<text x="191.93" y="110.36">0.955</text>
<text x="191.82" y="116.72">0.952</text>
<text x="191.79" y="123.08">0.951</text>
<text x="191.79" y="129.44">0.951</text>
<text x="191.72" y="135.80">0.949</text>
<text x="191.62" y="142.15">0.946</text>
<text x="191.51" y="148.51">0.943</text>
<text x="191.48" y="154.87">0.942</text>
<text x="191.41" y="161.23">0.94</text>
<text x="191.41" y="167.59">0.94</text>
<text x="191.30" y="173.95">0.937</text>
<text x="191.20" y="180.31">0.934</text>
<text x="191.16" y="186.67">0.933</text>
<text x="191.13" y="193.03">0.932</text>
<text x="191.09" y="199.39">0.931</text>
<text x="191.06" y="205.75">0.93</text>
<text x="191.06" y="212.11">0.93</text>
<text x="191.06" y="218.47">0.93</text>
<text x="191.06" y="224.82">0.93</text>
<text x="191.02" y="231.18">0.929</text>
<text x="191.02" y="237.54">0.929</text>
<text x="191.02" y="243.90">0.929</text>
<text x="191.02" y="250.26">0.929</text>
<text x="191.02" y="256.62">0.929</text>
<text x="191.02" y="262.98">0.929</text>
<text x="190.85" y="269.34">0.924</text>
<text x="190.85" y="275.70">0.924</text>
<text x="190.67" y="282.06">0.919</text>
<text x="190.64" y="288.42">0.918</text>
<text x="190.60" y="294.78">0.917</text>
<text x="190.60" y="301.14">0.917</text>
<text x="190.57" y="307.49">0.916</text>
<text x="190.57" y="313.85">0.916</text>
<text x="190.57" y="320.21">0.916</text>
<text x="190.57" y="326.57">0.916</text>
<text x="190.53" y="332.93">0.915</text>
<text x="190.53" y="339.29">0.915</text>
<text x="190.53" y="345.65">0.915</text>
<text x="190.53" y="352.01">0.915</text>
<text x="190.53" y="358.37">0.915</text>
<text x="190.53" y="364.73">0.915</text>
<text x="190.50" y="371.09">0.914</text>
<text x="190.50" y="377.45">0.914</text>
<text x="190.50" y="383.81">0.914</text>
<text x="190.46" y="390.16">0.913</text>
<text x="190.39" y="396.52">0.911</text>
<text x="190.39" y="402.88">0.911</text>
<text x="182.05" y="409.24">0.672</text>
<text x="181.91" y="415.60">0.668</text>
<text x="181.88" y="421.96">0.667</text>
<text x="181.88" y="428.32">0.667</text>
<text x="181.88" y="434.68">0.667</text>
<text x="181.88" y="441.04">0.667</text>
<text x="181.88" y="447.40">0.667</text>
<text x="181.88" y="453.76">0.667</text>
<text x="181.88" y="460.12">0.667</text>
<text x="181.88" y="466.48">0.667</text>
<text x="181.88" y="472.83">0.667</text>
<text x="181.88" y="479.19">0.667</text>
<text x="181.88" y="485.55">0.667</text>
<text x="181.88" y="491.91">0.667</text>
<text x="181.88" y="498.27">0.667</text>
<text x="181.88" y="504.63">0.667</text>
<text x="181.88" y="510.99">0.667</text>
<text x="181.88" y="517.35">0.667</text>
<text x="181.88" y="523.71">0.667</text>
<text x="181.88" y="530.07">0.667</text>
<text x="181.88" y="536.43">0.667</text>
<text x="181.88" y="542.79">0.667</text>
<text x="181.88" y="549.15">0.667</text>
<text x="181.88" y="555.50">0.667</text>
<text x="181.88" y="561.86">0.667</text>
<text x="181.88" y="568.22">0.667</text>
<text x="181.88" y="574.58">0.667</text>
<text x="181.88" y="580.94">0.667</text>
<text x="181.88" y="587.30">0.667</text>
<text x="181.88" y="593.66">0.667</text>
<text x="181.84" y="600.02">0.666</text>
<text x="181.84" y="606.38">0.666</text>
<text x="181.84" y="612.74">0.666</text>
<text x="181.84" y="619.10">0.666</text>
<text x="181.84" y="625.46">0.666</text>
<text x="181.77" y="631.82">0.664</text>
<text x="181.77" y="638.17">0.664</text>
<text x="181.67" y="644.53">0.661</text>
<text x="181.49" y="650.89">0.656</text>
<text x="181.18" y="657.25">0.647</text>
<text x="180.76" y="663.61">0.635</text>
<text x="179.71" y="669.97">0.605</text>
</g>
<path d="M160.2 672.2H200" stroke="#333" stroke-width="0.5" fill="none"/>
<path d="M160.2 672.2v1M177.5 672.2v1M194.7 672.2v1" stroke="#333" stroke-width="0.4" fill="none"/>
<g font-size="3.4" fill="#333" text-anchor="middle"><text x="160.2" y="677">0</text><text x="177.5" y="677">0.5</text><text x="194.7" y="677">1</text></g>
<defs><linearGradient id="g" x1="0" y1="0" x2="0" y2="1"><stop offset="0" stop-color="#e84e3c"/><stop offset="0.106" stop-color="#ed7362"/><stop offset="0.225" stop-color="#f6aa9d"/><stop offset="0.5" stop-color="#ffffff"/><stop offset="0.625" stop-color="#b5d6ee"/><stop offset="0.9" stop-color="#0c94cc"/><stop offset="1" stop-color="#0082c3"/></linearGradient></defs>
<rect x="201.2" y="333.5" width="5.2" height="26.8" fill="url(#g)"/>
<g font-size="4.3" fill="#111"><text x="201.5" y="330.8" font-weight="bold">AUC</text><text x="216.6" y="330.8" font-weight="bold">Cohort</text>
<text x="207.8" y="336.1">1</text>
<text x="207.8" y="342.5">0.8</text>
<text x="207.8" y="348.7">0.6</text>
<text x="207.8" y="354.9">0.4</text>
<text x="207.8" y="361.0">0.2</text>
<rect x="216.6" y="334.40" width="4.6" height="3.4" fill="#9fd0e8"/>
<text x="222.8" y="337.60">GSE141910</text>
<rect x="216.6" y="339.55" width="4.6" height="3.4" fill="#1a72b4"/>
<text x="222.8" y="342.75">GSE42955</text>
<rect x="216.6" y="344.70" width="4.6" height="3.4" fill="#a0dc84"/>
<text x="222.8" y="347.90">GSE57738</text>
</g>
<g stroke="#7c7c84" stroke-width="0.65" fill="none">
<path d="M456.4 29.2L456.4 57.3"/>
<path d="M456.4 57.3L440.9 78.9"/>
<path d="M456.4 57.3L480.5 81.7"/>
<path d="M495 51.1L480.5 81.7"/>
<path d="M516 61L511.4 84.2"/>
<path d="M480.5 81.7L511.4 84.2"/>
<path d="M511.4 84.2L532 83.6"/>
<path d="M532 83.6L513.5 112.9"/>
<path d="M513.5 112.9L526.8 139.2"/>
<path d="M513.5 112.9L460 141.3"/>
<path d="M440.9 78.9L422.7 95"/>
<path d="M440.9 78.9L457.9 98.1"/>
<path d="M480.5 81.7L457.9 98.1"/>
<path d="M480.5 81.7L460 141.3"/>
<path d="M457.9 98.1L495.9 102.1"/>
<path d="M457.9 98.1L460 141.3"/>
<path d="M457.9 98.1L493.4 141.4"/>
<path d="M422.7 95L435.6 114.2"/>
<path d="M422.7 95L405.7 119.1"/>
<path d="M435.6 114.2L460 141.3"/>
<path d="M495.9 102.1L460 141.3"/>
<path d="M495.9 102.1L493.4 141.4"/>
<path d="M495.9 102.1L435.6 114.2"/>
<path d="M460 141.3L493.4 141.4"/>
<path d="M405.7 119.1L382 137.5"/>
<path d="M460 141.3L429 151"/>
<path d="M379.5 121L429 151"/>
<path d="M331.8 89.1L303.2 103.3"/>
<path d="M331.8 89.1L311.4 125.1"/>
<path d="M331.8 89.1L349.5 119.1"/>
<path d="M303.2 103.3L311.4 125.1"/>
<path d="M303.2 103.3L349.5 119.1"/>
<path d="M311.4 125.1L349.5 119.1"/>
<path d="M311.4 125.1L297.7 143.1"/>
<path d="M311.4 125.1L323.1 149.9"/>
<path d="M266.4 128.1L297.7 143.1"/>
<path d="M297.7 143.1L275.9 150.4"/>
<path d="M297.7 143.1L310 164.1"/>
<path d="M372.7 96.5L349.5 119.1"/>
<path d="M372.7 96.5L379.5 121"/>
<path d="M349.5 119.1L379.5 121"/>
<path d="M349.5 119.1L346.3 148.5"/>
<path d="M382 137.5L346.3 148.5"/>
<path d="M346.3 148.5L323.1 149.9"/>
<path d="M346.3 148.5L396.5 154.3"/>
<path d="M346.3 148.5L350 180.5"/>
<path d="M382 137.5L350 180.5"/>
<path d="M346.3 148.5L305.5 190"/>
<path d="M323.1 149.9L350 180.5"/>
<path d="M310 164.1L350 180.5"/>
<path d="M350 180.5L388.7 175"/>
<path d="M350 180.5L305.5 190"/>
<path d="M382 137.5L370 196"/>
<path d="M396.5 154.3L429 151"/>
<path d="M429 151L388.7 175"/>
<path d="M429 151L419.3 181"/>
<path d="M429 151L462 199"/>
<path d="M460 141.3L463.2 174.9"/>
<path d="M346.3 148.5L370 196"/>
<path d="M350 180.5L370 196"/>
<path d="M370 196L399.7 198.2"/>
<path d="M370 196L338.8 205.6"/>
<path d="M350 180.5L338.8 205.6"/>
<path d="M370 196L370.4 222.2"/>
<path d="M370 196L390.1 223.4"/>
<path d="M305.5 190L299.5 213.2"/>
<path d="M370.4 222.2L368.7 252"/>
<path d="M390.1 223.4L405.6 240.4"/>
<path d="M390.1 223.4L393.4 270"/>
<path d="M390.1 223.4L446.5 223.4"/>
<path d="M368.7 252L424.0 263.2"/>
<path d="M405.6 240.4L413.0 286.1"/>
<path d="M393.4 270L413.0 286.1"/>
<path d="M393.4 270L388.3 297.2"/>
<path d="M413.0 286.1L388.3 297.2"/>
<path d="M388.3 297.2L416.5 309.2"/>
<path d="M413.0 286.1L416.5 309.2"/>
<path d="M463.2 174.9L496.5 174.8"/>
<path d="M463.2 174.9L491.3 200.8"/>
<path d="M463.2 174.9L427.3 205.4"/>
<path d="M419.3 181L427.3 205.4"/>
<path d="M427.3 205.4L446.5 223.4"/>
<path d="M427.3 205.4L405.6 240.4"/>
<path d="M427.3 205.4L424.0 263.2"/>
<path d="M462 199L446.5 223.4"/>
<path d="M462 199L470.3 250.6"/>
<path d="M462 199L487.8 234.0"/>
<path d="M491.3 200.8L446.5 223.4"/>
<path d="M491.3 200.8L487.8 234.0"/>
<path d="M487.8 234.0L516 222.8"/>
<path d="M487.8 234.0L509.8 251.8"/>
<path d="M487.8 234.0L479.0 274.6"/>
<path d="M446.5 223.4L405.6 240.4"/>
<path d="M446.5 223.4L447.4 248.1"/>
<path d="M446.5 223.4L424.0 263.2"/>
<path d="M405.6 240.4L424.0 263.2"/>
<path d="M470.3 250.6L445.8 273.4"/>
<path d="M424.0 263.2L445.8 273.4"/>
<path d="M424.0 263.2L443.4 297.6"/>
<path d="M445.8 273.4L479.0 274.6"/>
<path d="M445.8 273.4L413.0 286.1"/>
<path d="M413.0 286.1L443.4 297.6"/>
</g>
<g fill="#f9a93b">
<ellipse cx="456.4" cy="29.2" rx="10.1" ry="6.8"/>
<ellipse cx="456.4" cy="57.3" rx="10.1" ry="6.8"/>
<ellipse cx="495" cy="51.1" rx="10.1" ry="6.8"/>
<ellipse cx="516" cy="61" rx="10.1" ry="6.8"/>
<ellipse cx="440.9" cy="78.9" rx="10.1" ry="6.8"/>
<ellipse cx="480.5" cy="81.7" rx="10.1" ry="6.8"/>
<ellipse cx="511.4" cy="84.2" rx="10.1" ry="6.8"/>
<ellipse cx="532" cy="83.6" rx="10.1" ry="6.8"/>
<ellipse cx="422.7" cy="95" rx="10.1" ry="6.8"/>
<ellipse cx="457.9" cy="98.1" rx="10.1" ry="6.8"/>
<ellipse cx="495.9" cy="102.1" rx="10.1" ry="6.8"/>
<ellipse cx="435.6" cy="114.2" rx="10.1" ry="6.8"/>
<ellipse cx="513.5" cy="112.9" rx="10.1" ry="6.8"/>
<ellipse cx="405.7" cy="119.1" rx="10.1" ry="6.8"/>
<ellipse cx="460" cy="141.3" rx="10.1" ry="6.8"/>
<ellipse cx="493.4" cy="141.4" rx="10.1" ry="6.8"/>
<ellipse cx="526.8" cy="139.2" rx="10.1" ry="6.8"/>
<ellipse cx="331.8" cy="89.1" rx="10.1" ry="6.8"/>
<ellipse cx="372.7" cy="96.5" rx="10.1" ry="6.8"/>
<ellipse cx="303.2" cy="103.3" rx="10.1" ry="6.8"/>
<ellipse cx="349.5" cy="119.1" rx="10.1" ry="6.8"/>
<ellipse cx="379.5" cy="121" rx="10.1" ry="6.8"/>
<ellipse cx="311.4" cy="125.1" rx="10.1" ry="6.8"/>
<ellipse cx="266.4" cy="128.1" rx="10.1" ry="6.8"/>
<ellipse cx="382" cy="137.5" rx="10.1" ry="6.8"/>
<ellipse cx="297.7" cy="143.1" rx="10.1" ry="6.8"/>
<ellipse cx="275.9" cy="150.4" rx="10.1" ry="6.8"/>
<ellipse cx="323.1" cy="149.9" rx="10.1" ry="6.8"/>
<ellipse cx="346.3" cy="148.5" rx="10.1" ry="6.8"/>
<ellipse cx="310" cy="164.1" rx="10.1" ry="6.8"/>
<ellipse cx="396.5" cy="154.3" rx="10.1" ry="6.8"/>
<ellipse cx="388.7" cy="175" rx="10.1" ry="6.8"/>
<ellipse cx="350" cy="180.5" rx="10.1" ry="6.8"/>
<ellipse cx="429" cy="151" rx="10.1" ry="6.8"/>
<ellipse cx="463.2" cy="174.9" rx="10.1" ry="6.8"/>
<ellipse cx="419.3" cy="181" rx="10.1" ry="6.8"/>
<ellipse cx="370" cy="196" rx="10.1" ry="6.8"/>
<ellipse cx="399.7" cy="198.2" rx="10.1" ry="6.8"/>
<ellipse cx="427.3" cy="205.4" rx="10.1" ry="6.8"/>
<ellipse cx="462" cy="199" rx="10.1" ry="6.8"/>
<ellipse cx="338.8" cy="205.6" rx="10.1" ry="6.8"/>
<ellipse cx="496.5" cy="174.8" rx="10.1" ry="6.8"/>
<ellipse cx="491.3" cy="200.8" rx="10.1" ry="6.8"/>
<ellipse cx="305.5" cy="190" rx="10.1" ry="6.8"/>
<ellipse cx="299.5" cy="213.2" rx="10.1" ry="6.8"/>
<ellipse cx="336.0" cy="220.1" rx="10.1" ry="6.8"/>
<ellipse cx="370.4" cy="222.2" rx="10.1" ry="6.8"/>
<ellipse cx="390.1" cy="223.4" rx="10.1" ry="6.8"/>
<ellipse cx="446.5" cy="223.4" rx="10.1" ry="6.8"/>
<ellipse cx="516" cy="222.8" rx="10.1" ry="6.8"/>
<ellipse cx="487.8" cy="234.0" rx="10.1" ry="6.8"/>
<ellipse cx="405.6" cy="240.4" rx="10.1" ry="6.8"/>
<ellipse cx="447.4" cy="248.1" rx="10.1" ry="6.8"/>
<ellipse cx="470.3" cy="250.6" rx="10.1" ry="6.8"/>
<ellipse cx="509.8" cy="251.8" rx="10.1" ry="6.8"/>
<ellipse cx="368.7" cy="252" rx="10.1" ry="6.8"/>
<ellipse cx="424.0" cy="263.2" rx="10.1" ry="6.8"/>
<ellipse cx="393.4" cy="270" rx="10.1" ry="6.8"/>
<ellipse cx="445.8" cy="273.4" rx="10.1" ry="6.8"/>
<ellipse cx="479.0" cy="274.6" rx="10.1" ry="6.8"/>
<ellipse cx="413.0" cy="286.1" rx="10.1" ry="6.8"/>
<ellipse cx="388.3" cy="297.2" rx="10.1" ry="6.8"/>
<ellipse cx="443.4" cy="297.6" rx="10.1" ry="6.8"/>
<ellipse cx="416.5" cy="309.2" rx="10.1" ry="6.8"/>
</g>
<g font-size="4.85" fill="#2a2218" stroke="#2a2218" stroke-width="0.12" text-anchor="middle">
<text x="456.4" y="30.95">FREM1</text>
<text x="456.4" y="59.05">PDE5A</text>
<text x="495" y="52.85">AK5</text>
<text x="516" y="62.75">EYS</text>
<text x="440.9" y="80.65">NPPB</text>
<text x="480.5" y="83.45">NT5E</text>
<text x="511.4" y="85.95">PDE6A</text>
<text x="532" y="85.35">SLC16A9</text>
<text x="422.7" y="96.75">MS4A2</text>
<text x="457.9" y="99.85">MME</text>
<text x="495.9" y="103.85">CD1C</text>
<text x="435.6" y="115.95">FCER1A</text>
<text x="513.5" y="114.65">ABCG2</text>
<text x="405.7" y="120.85">IL31RA</text>
<text x="460" y="143.05">KIT</text>
<text x="493.4" y="143.15">CD1E</text>
<text x="526.8" y="140.95">SLCO4C1</text>
<text x="331.8" y="90.85">KCNIP1</text>
<text x="372.7" y="98.25">SYNPR</text>
<text x="303.2" y="105.05">SLC24A2</text>
<text x="349.5" y="120.85">SLC6A1</text>
<text x="379.5" y="122.75">GAP43</text>
<text x="311.4" y="126.85">HHIP</text>
<text x="266.4" y="129.85">PENK</text>
<text x="382" y="139.25">HTR2B</text>
<text x="297.7" y="144.85">SCG2</text>
<text x="275.9" y="152.15">SCUBE2</text>
<text x="323.1" y="151.65">CHRNA3</text>
<text x="346.3" y="150.25">HTR2A</text>
<text x="310" y="165.85">FHAD1</text>
<text x="396.5" y="156.05">NRG1</text>
<text x="388.7" y="176.75">LMX1A</text>
<text x="350" y="182.25">SLC6A4</text>
<text x="429" y="152.75">GDNF</text>
<text x="463.2" y="176.65">LEF1</text>
<text x="419.3" y="182.75">SULF1</text>
<text x="370" y="197.75">GNA14</text>
<text x="399.7" y="199.95">F2RL2</text>
<text x="427.3" y="207.15">SFRP4</text>
<text x="462" y="200.75">TGFB2</text>
<text x="338.8" y="207.35">RGS17</text>
<text x="496.5" y="176.55">CREB5</text>
<text x="491.3" y="202.55">FRZB</text>
<text x="305.5" y="191.75">GRIK4</text>
<text x="299.5" y="214.95">SHANK2</text>
<text x="336.0" y="221.85">LMX1B</text>
<text x="370.4" y="223.95">LHCGR</text>
<text x="390.1" y="225.15">ECM2</text>
<text x="446.5" y="225.15">ASPN</text>
<text x="516" y="224.55">LRRC17</text>
<text x="487.8" y="235.75">GREM1</text>
<text x="405.6" y="242.15">OGN</text>
<text x="447.4" y="249.85">FAP</text>
<text x="470.3" y="252.35">LTBP2</text>
<text x="509.8" y="253.55">GDF6</text>
<text x="368.7" y="253.75">GATM</text>
<text x="424.0" y="264.95">FNDC1</text>
<text x="393.4" y="271.75">COL22A1</text>
<text x="445.8" y="275.15">MFAP4</text>
<text x="479.0" y="276.35">CHRDL1</text>
<text x="413.0" y="287.85">COL14A1</text>
<text x="388.3" y="298.95">LEPREL1</text>
<text x="443.4" y="299.35">MXRA5</text>
<text x="416.5" y="310.95">COL8A2</text>
</g>
<g stroke="#888892" stroke-width="0.6" fill="none">
<path d="M396.9 663.3L412.3 662.4"/>
<path d="M412.3 662.4L527.5 507.3"/>
<path d="M412.3 662.4L337.4 411.6"/>
<path d="M412.3 398.4L337.4 411.6"/>
<path d="M264.5 538.1L282.1 596.9"/>
<path d="M337.4 411.6L282.1 596.9"/>
<path d="M282.1 596.9L503.3 609.8"/>
<path d="M503.3 609.8L351.5 405.5"/>
<path d="M351.5 405.5L290.5 451.0"/>
<path d="M351.5 405.5L452.0 550.2"/>
<path d="M527.5 507.3L456.4 649.2"/>
<path d="M527.5 507.3L397.9 589.5"/>
<path d="M337.4 411.6L397.9 589.5"/>
<path d="M337.4 411.6L452.0 550.2"/>
<path d="M397.9 589.5L397.9 475.7"/>
<path d="M397.9 589.5L452.0 550.2"/>
<path d="M397.9 589.5L311.7 632.2"/>
<path d="M456.4 649.2L269.9 492.3"/>
<path d="M456.4 649.2L427.5 659.7"/>
<path d="M269.9 492.3L452.0 550.2"/>
<path d="M397.9 475.7L452.0 550.2"/>
<path d="M397.9 475.7L311.7 632.2"/>
<path d="M397.9 475.7L269.9 492.3"/>
<path d="M452.0 550.2L311.7 632.2"/>
<path d="M427.5 659.7L343.8 550.2"/>
<path d="M452.0 550.2L290.5 609.8"/>
<path d="M456.4 411.6L290.5 609.8"/>
<path d="M511.7 596.8L366.3 401.1"/>
<path d="M511.7 596.8L351.5 655.3"/>
<path d="M511.7 596.8L431.3 486.6"/>
<path d="M366.3 401.1L351.5 655.3"/>
<path d="M366.3 401.1L431.3 486.6"/>
<path d="M351.5 655.3L431.3 486.6"/>
<path d="M351.5 655.3L469.8 419.4"/>
<path d="M351.5 655.3L264.5 522.7"/>
<path d="M442.3 405.5L469.8 419.4"/>
<path d="M469.8 419.4L503.3 451.0"/>
<path d="M469.8 419.4L518.7 477.8"/>
<path d="M282.1 463.9L431.3 486.6"/>
<path d="M282.1 463.9L456.4 411.6"/>
<path d="M431.3 486.6L456.4 411.6"/>
<path d="M431.3 486.6L529.3 522.7"/>
<path d="M343.8 550.2L529.3 522.7"/>
<path d="M529.3 522.7L264.5 522.7"/>
<path d="M529.3 522.7L269.9 568.5"/>
<path d="M529.3 522.7L343.8 515.0"/>
<path d="M343.8 550.2L343.8 515.0"/>
<path d="M529.3 522.7L266.3 553.5"/>
<path d="M264.5 522.7L343.8 515.0"/>
<path d="M518.7 477.8L343.8 515.0"/>
<path d="M343.8 515.0L396.9 397.5"/>
<path d="M343.8 515.0L266.3 553.5"/>
<path d="M343.8 550.2L300.5 439.2"/>
<path d="M269.9 568.5L290.5 609.8"/>
<path d="M290.5 609.8L396.9 397.5"/>
<path d="M290.5 609.8L527.5 553.5"/>
<path d="M290.5 609.8L324.0 419.4"/>
<path d="M452.0 550.2L529.3 538.1"/>
<path d="M529.3 522.7L300.5 439.2"/>
<path d="M343.8 515.0L300.5 439.2"/>
<path d="M300.5 439.2L366.3 659.7"/>
<path d="M300.5 439.2L493.3 621.6"/>
<path d="M343.8 515.0L493.3 621.6"/>
<path d="M300.5 439.2L381.5 662.4"/>
<path d="M300.5 439.2L493.3 439.2"/>
<path d="M266.3 553.5L337.4 649.2"/>
<path d="M381.5 662.4L324.0 641.4"/>
<path d="M493.3 439.2L364.5 578.6"/>
<path d="M493.3 439.2L482.1 428.6"/>
<path d="M493.3 439.2L266.3 507.3"/>
<path d="M324.0 641.4L518.7 583.0"/>
<path d="M364.5 578.6L431.3 578.6"/>
<path d="M482.1 428.6L431.3 578.6"/>
<path d="M482.1 428.6L300.5 621.6"/>
<path d="M431.3 578.6L300.5 621.6"/>
<path d="M300.5 621.6L275.1 477.8"/>
<path d="M431.3 578.6L275.1 477.8"/>
<path d="M529.3 538.1L523.9 568.5"/>
<path d="M529.3 538.1L442.3 655.3"/>
<path d="M529.3 538.1L364.5 486.6"/>
<path d="M527.5 553.5L364.5 486.6"/>
<path d="M364.5 486.6L266.3 507.3"/>
<path d="M364.5 486.6L364.5 578.6"/>
<path d="M364.5 486.6L518.7 583.0"/>
<path d="M324.0 419.4L266.3 507.3"/>
<path d="M324.0 419.4L381.5 398.4"/>
<path d="M324.0 419.4L311.7 428.6"/>
<path d="M442.3 655.3L266.3 507.3"/>
<path d="M442.3 655.3L311.7 428.6"/>
<path d="M311.7 428.6L427.5 401.1"/>
<path d="M311.7 428.6L469.8 641.4"/>
<path d="M311.7 428.6L523.9 492.3"/>
<path d="M266.3 507.3L364.5 578.6"/>
<path d="M266.3 507.3L275.1 583.0"/>
<path d="M266.3 507.3L518.7 583.0"/>
<path d="M364.5 578.6L518.7 583.0"/>
<path d="M381.5 398.4L452.0 515.0"/>
<path d="M518.7 583.0L452.0 515.0"/>
<path d="M518.7 583.0L482.1 632.2"/>
<path d="M452.0 515.0L523.9 492.3"/>
<path d="M452.0 515.0L431.3 578.6"/>
<path d="M431.3 578.6L482.1 632.2"/>
</g>
<g fill="#fae691">
<ellipse cx="396.9" cy="397.5" rx="8.8" ry="5.3"/>
<ellipse cx="412.3" cy="398.4" rx="8.8" ry="5.3"/>
<ellipse cx="427.5" cy="401.1" rx="8.8" ry="5.3"/>
<ellipse cx="442.3" cy="405.5" rx="8.8" ry="5.3"/>
<ellipse cx="456.4" cy="411.6" rx="8.8" ry="5.3"/>
<ellipse cx="469.8" cy="419.4" rx="8.8" ry="5.3"/>
<ellipse cx="482.1" cy="428.6" rx="8.8" ry="5.3"/>
<ellipse cx="493.3" cy="439.2" rx="8.8" ry="5.3"/>
<ellipse cx="503.3" cy="451.0" rx="8.8" ry="5.3"/>
<ellipse cx="511.7" cy="463.9" rx="8.8" ry="5.3"/>
<ellipse cx="518.7" cy="477.8" rx="8.8" ry="5.3"/>
<ellipse cx="523.9" cy="492.3" rx="8.8" ry="5.3"/>
<ellipse cx="527.5" cy="507.3" rx="8.8" ry="5.3"/>
<ellipse cx="529.3" cy="522.7" rx="8.8" ry="5.3"/>
<ellipse cx="529.3" cy="538.1" rx="8.8" ry="5.3"/>
<ellipse cx="527.5" cy="553.5" rx="8.8" ry="5.3"/>
<ellipse cx="523.9" cy="568.5" rx="8.8" ry="5.3"/>
<ellipse cx="518.7" cy="583.0" rx="8.8" ry="5.3"/>
<ellipse cx="511.7" cy="596.8" rx="8.8" ry="5.3"/>
<ellipse cx="503.3" cy="609.8" rx="8.8" ry="5.3"/>
<ellipse cx="493.3" cy="621.6" rx="8.8" ry="5.3"/>
<ellipse cx="482.1" cy="632.2" rx="8.8" ry="5.3"/>
<ellipse cx="469.8" cy="641.4" rx="8.8" ry="5.3"/>
<ellipse cx="456.4" cy="649.2" rx="8.8" ry="5.3"/>
<ellipse cx="442.3" cy="655.3" rx="8.8" ry="5.3"/>
<ellipse cx="427.5" cy="659.7" rx="8.8" ry="5.3"/>
<ellipse cx="412.3" cy="662.4" rx="8.8" ry="5.3"/>
<ellipse cx="396.9" cy="663.3" rx="8.8" ry="5.3"/>
<ellipse cx="381.5" cy="662.4" rx="8.8" ry="5.3"/>
<ellipse cx="366.3" cy="659.7" rx="8.8" ry="5.3"/>
<ellipse cx="351.5" cy="655.3" rx="8.8" ry="5.3"/>
<ellipse cx="337.4" cy="649.2" rx="8.8" ry="5.3"/>
<ellipse cx="324.0" cy="641.4" rx="8.8" ry="5.3"/>
<ellipse cx="311.7" cy="632.2" rx="8.8" ry="5.3"/>
<ellipse cx="300.5" cy="621.6" rx="8.8" ry="5.3"/>
<ellipse cx="290.5" cy="609.8" rx="8.8" ry="5.3"/>
<ellipse cx="282.1" cy="596.9" rx="8.8" ry="5.3"/>
<ellipse cx="275.1" cy="583.0" rx="8.8" ry="5.3"/>
<ellipse cx="269.9" cy="568.5" rx="8.8" ry="5.3"/>
<ellipse cx="266.3" cy="553.5" rx="8.8" ry="5.3"/>
<ellipse cx="264.5" cy="538.1" rx="8.8" ry="5.3"/>
<ellipse cx="264.5" cy="522.7" rx="8.8" ry="5.3"/>
<ellipse cx="266.3" cy="507.3" rx="8.8" ry="5.3"/>
<ellipse cx="269.9" cy="492.3" rx="8.8" ry="5.3"/>
<ellipse cx="275.1" cy="477.8" rx="8.8" ry="5.3"/>
<ellipse cx="282.1" cy="463.9" rx="8.8" ry="5.3"/>
<ellipse cx="290.5" cy="451.0" rx="8.8" ry="5.3"/>
<ellipse cx="300.5" cy="439.2" rx="8.8" ry="5.3"/>
<ellipse cx="311.7" cy="428.6" rx="8.8" ry="5.3"/>
<ellipse cx="324.0" cy="419.4" rx="8.8" ry="5.3"/>
<ellipse cx="337.4" cy="411.6" rx="8.8" ry="5.3"/>
<ellipse cx="351.5" cy="405.5" rx="8.8" ry="5.3"/>
<ellipse cx="366.3" cy="401.1" rx="8.8" ry="5.3"/>
<ellipse cx="381.5" cy="398.4" rx="8.8" ry="5.3"/>
</g>
<g fill="#f28a2b">
<ellipse cx="397.9" cy="475.7" rx="8.8" ry="5.8"/>
<ellipse cx="431.3" cy="486.6" rx="8.8" ry="5.8"/>
<ellipse cx="452.0" cy="515.0" rx="8.8" ry="5.8"/>
<ellipse cx="452.0" cy="550.2" rx="8.8" ry="5.8"/>
<ellipse cx="431.3" cy="578.6" rx="8.8" ry="5.8"/>
<ellipse cx="397.9" cy="589.5" rx="8.8" ry="5.8"/>
<ellipse cx="364.5" cy="578.6" rx="8.8" ry="5.8"/>
<ellipse cx="343.8" cy="550.2" rx="8.8" ry="5.8"/>
<ellipse cx="343.8" cy="515.0" rx="8.8" ry="5.8"/>
<ellipse cx="364.5" cy="486.6" rx="8.8" ry="5.8"/>
</g>
<g font-size="4.2" fill="#2a2218" stroke="#2a2218" stroke-width="0.08" text-anchor="middle">
<text x="396.9" y="398.95">LMX1A</text>
<text x="412.3" y="399.85">AK5</text>
<text x="427.5" y="402.53">LRRC17</text>
<text x="442.3" y="406.96">PENK</text>
<text x="456.4" y="413.09">GAP43</text>
<text x="469.8" y="420.81">SCG2</text>
<text x="482.1" y="430.04">COL22A1</text>
<text x="493.3" y="440.65">ECM2</text>
<text x="503.3" y="452.49">SCUBE2</text>
<text x="511.7" y="465.40">LMX1B</text>
<text x="518.7" y="479.21">FHAD1</text>
<text x="523.9" y="493.73">CHRDL1</text>
<text x="527.5" y="508.77">NPPB</text>
<text x="529.3" y="524.12">HTR2A</text>
<text x="529.3" y="539.58">LEF1</text>
<text x="527.5" y="554.93">SULF1</text>
<text x="523.9" y="569.97">CREB5</text>
<text x="518.7" y="584.49">FNDC1</text>
<text x="511.7" y="598.30">KCNIP1</text>
<text x="503.3" y="611.21">SLC16A9</text>
<text x="493.3" y="623.05">RGS17</text>
<text x="482.1" y="633.66">MXRA5</text>
<text x="469.8" y="642.89">GDF6</text>
<text x="456.4" y="650.61">MS4A2</text>
<text x="442.3" y="656.74">FRZB</text>
<text x="427.5" y="661.17">IL31RA</text>
<text x="412.3" y="663.85">PDE5A</text>
<text x="396.9" y="664.75">FREM1</text>
<text x="381.5" y="663.85">LHCGR</text>
<text x="366.3" y="661.17">F2RL2</text>
<text x="351.5" y="656.74">HHIP</text>
<text x="337.4" y="650.61">SHANK2</text>
<text x="324.0" y="642.89">GATM</text>
<text x="311.7" y="633.66">CD1E</text>
<text x="300.5" y="623.05">LEPREL1</text>
<text x="290.5" y="611.21">GDNF</text>
<text x="282.1" y="598.30">PDE6A</text>
<text x="275.1" y="584.49">FAP</text>
<text x="269.9" y="569.97">NRG1</text>
<text x="266.3" y="554.93">GRIK4</text>
<text x="264.5" y="539.58">EYS</text>
<text x="264.5" y="524.12">CHRNA3</text>
<text x="266.3" y="508.77">ASPN</text>
<text x="269.9" y="493.73">FCER1A</text>
<text x="275.1" y="479.21">COL8A2</text>
<text x="282.1" y="465.40">SYNPR</text>
<text x="290.5" y="452.49">SLCO4C1</text>
<text x="300.5" y="440.65">GNA14</text>
<text x="311.7" y="430.04">GREM1</text>
<text x="324.0" y="420.81">TGFB2</text>
<text x="337.4" y="413.09">NT5E</text>
<text x="351.5" y="406.96">ABCG2</text>
<text x="366.3" y="402.53">SLC24A2</text>
<text x="381.5" y="399.85">LTBP2</text>
<text x="397.9" y="477.15">CD1C</text>
<text x="431.3" y="488.02">SLC6A1</text>
<text x="452.0" y="516.47">MFAP4</text>
<text x="452.0" y="551.63">KIT</text>
<text x="431.3" y="580.08">COL14A1</text>
<text x="397.9" y="590.95">MME</text>
<text x="364.5" y="580.08">OGN</text>
<text x="343.8" y="551.63">HTR2B</text>
<text x="343.8" y="516.47">SLC6A4</text>
<text x="364.5" y="488.02">SFRP4</text>
</g>
</svg>
</body></html>
